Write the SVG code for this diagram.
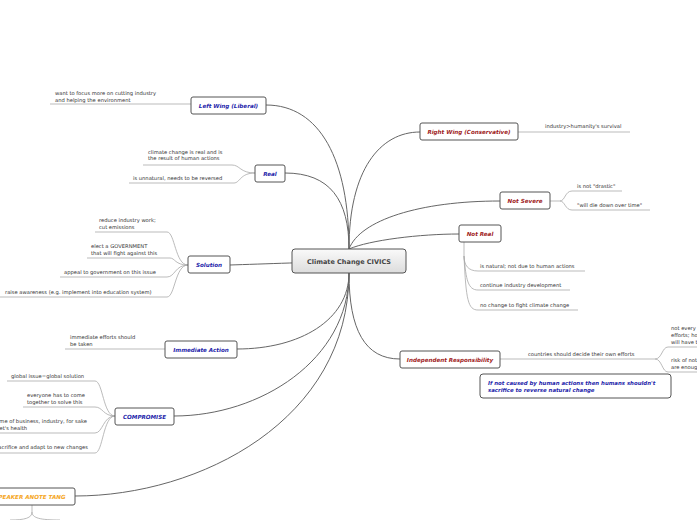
<svg xmlns="http://www.w3.org/2000/svg" width="697" height="520" viewBox="0 0 697 520">
<style>
.n{fill:#fff;stroke:#555;stroke-width:1;}
.t{font-family:"DejaVu Sans",sans-serif;font-size:5.2px;fill:#333;}
.l{font-family:"DejaVu Sans",sans-serif;font-size:5.6px;font-weight:bold;font-style:italic;text-anchor:middle;}
.b{fill:#1e1eaa}.r{fill:#a01c1c}.o{fill:#f5a623}
.c{fill:none;stroke:#666;stroke-width:1;}
.u{fill:none;stroke:#aaa;stroke-width:0.8;}
</style>
<defs><linearGradient id="g" x1="0" y1="0" x2="0" y2="1"><stop offset="0" stop-color="#fafafa"/><stop offset="1" stop-color="#dcdcdc"/></linearGradient></defs>
<rect width="697" height="520" fill="#fff"/>
<g id="connectors">
<path class="c" d="M349,249 C349,160 320,105 266,105"/>
<path class="c" d="M349,249 C349,200 330,173 285,173"/>
<path class="c" d="M349,261 C320,262 260,264 230,265"/>
<path class="c" d="M349,273 C349,320 300,349 237,349"/>
<path class="c" d="M349,273 C349,360 260,416 174,416"/>
<path class="c" d="M349,273 C349,420 200,496 75,496"/>
<path class="c" d="M349,249 C349,170 380,132 420,132"/>
<path class="c" d="M349,249 C360,220 420,201 500,201"/>
<path class="c" d="M349,249 C370,240 420,234 459,234"/>
<path class="c" d="M349,273 C349,330 365,359 400,359"/>
<path class="u" d="M50,104 H191"/>
<path class="u" d="M143,165 H232 C240,165 240,173 255,173 M129,183 H234 C240,183 240,173 255,173"/>
<path class="u" d="M95,232 H167 C175,232 175,265 188,265 M87,258 H170 C175,258 175,265 188,265 M60,277 H167 C175,277 175,265 188,265 M0,297 H167 C175,297 175,265 188,265"/>
<path class="u" d="M65,349 H165"/>
<path class="u" d="M7,381 H95 C103,381 103,416 115,416 M23,407 H95 C103,407 103,416 115,416 M0,433 H95 C103,433 103,416 115,416 M0,453 H95 C103,453 103,416 115,416"/>
<path class="u" d="M32,505 V512 C32,518 25,520 10,520 M32,512 C32,518 40,520 60,520"/>
<path class="u" d="M518,132 H630"/>
<path class="u" d="M550,201 H560 C565,201 565,191 572,191 H622 M560,201 C565,201 565,210 572,210 H650"/>
<path class="u" d="M464,242 V256 C464,265 468,271 478,271 H585 M464,256 C466,280 468,290 478,290 H570 M464,256 C466,300 468,310 478,310 H578"/>
<path class="u" d="M500,359 H655 C662,359 662,347 668,347 H697 M655,359 C662,359 662,372 668,372 H697"/>
</g>
<g id="center"><rect x="292" y="249" width="114" height="24" rx="3" fill="url(#g)" stroke="#555"/><text x="349" y="264" text-anchor="middle" style="font-family:'DejaVu Sans',sans-serif;font-size:6.5px;font-weight:bold;fill:#444">Climate Change CIVICS</text></g>
<g id="leftwing"><rect class="n" x="191" y="97" width="75" height="17" rx="2"/><text class="l b" x="228.5" y="108">Left Wing (Liberal)</text>
<text class="t" x="55" y="95">want to focus more on cutting industry</text><text class="t" x="55" y="102">and helping the environment</text></g>
<g id="real"><rect class="n" x="255" y="165" width="30" height="17" rx="2"/><text class="l b" x="270" y="176">Real</text>
<text class="t" x="148" y="154">climate change is real and is</text><text class="t" x="148" y="160">the result of human actions</text><text class="t" x="133" y="180">is unnatural, needs to be reversed</text></g>
<g id="solution"><rect class="n" x="188" y="256" width="42" height="17" rx="2"/><text class="l b" x="209" y="267">Solution</text>
<text class="t" x="99" y="222">reduce industry work;</text><text class="t" x="99" y="229">cut emissions</text>
<text class="t" x="91" y="248">elect a GOVERNMENT</text><text class="t" x="91" y="255">that will fight against this</text>
<text class="t" x="64" y="274">appeal to government on this issue</text>
<text class="t" x="5" y="294">raise awareness (e.g. implement into education system)</text></g>
<g id="immediate"><rect class="n" x="165" y="341" width="72" height="17" rx="2"/><text class="l b" x="201" y="352">Immediate Action</text>
<text class="t" x="70" y="339">immediate efforts should</text><text class="t" x="70" y="346">be taken</text></g>
<g id="compromise"><rect class="n" x="115" y="408" width="59" height="17" rx="2"/><text class="l b" x="144.5" y="419">COMPROMISE</text>
<text class="t" x="11" y="378">global issue=global solution</text>
<text class="t" x="27" y="397">everyone has to come</text><text class="t" x="27" y="404">together to solve this</text>
<text class="t" x="87" y="423" text-anchor="end">give up some of business, industry, for sake</text><text class="t" x="27" y="430" text-anchor="end">of the planet's health</text>
<text class="t" x="88" y="449" text-anchor="end">must sacrifice and adapt to new changes</text></g>
<g id="speaker"><rect class="n" x="-10" y="488" width="85" height="17" rx="2"/><text class="l o" x="30" y="499">SPEAKER ANOTE TANG</text></g>
<g id="rightwing"><rect class="n" x="420" y="123" width="98" height="17" rx="2"/><text class="l r" x="469" y="134">Right Wing (Conservative)</text>
<text class="t" x="545" y="128">industry&gt;humanity's survival</text></g>
<g id="notsevere"><rect class="n" x="500" y="192" width="50" height="17" rx="2"/><text class="l r" x="525" y="203">Not Severe</text>
<text class="t" x="577" y="188">is not "drastic"</text><text class="t" x="577" y="207">"will die down over time"</text></g>
<g id="notreal"><rect class="n" x="459" y="225" width="42" height="17" rx="2"/><text class="l r" x="480" y="236">Not Real</text>
<text class="t" x="480" y="268">is natural; not due to human actions</text><text class="t" x="480" y="287">continue industry development</text><text class="t" x="480" y="307">no change to fight climate change</text></g>
<g id="independent"><rect class="n" x="400" y="351" width="100" height="17" rx="2"/><text class="l r" x="450" y="362">Independent Responsibility</text>
<text class="t" x="528" y="356">countries should decide their own efforts</text>
<text class="t" x="671" y="330">not every country</text><text class="t" x="671" y="337">efforts; however</text><text class="t" x="671" y="344">will have to</text>
<text class="t" x="671" y="362">risk of not</text><text class="t" x="671" y="369">are enough</text></g>
<g id="note"><rect x="480" y="374" width="191" height="24" rx="3" fill="#fff" stroke="#555"/>
<text style="font-family:'DejaVu Sans',sans-serif;font-size:5.4px;font-weight:bold;font-style:italic" class="b" x="488" y="385">If not caused by human actions then humans shouldn't</text>
<text style="font-family:'DejaVu Sans',sans-serif;font-size:5.4px;font-weight:bold;font-style:italic" class="b" x="488" y="392">sacrifice to reverse natural change</text></g>
</svg>
